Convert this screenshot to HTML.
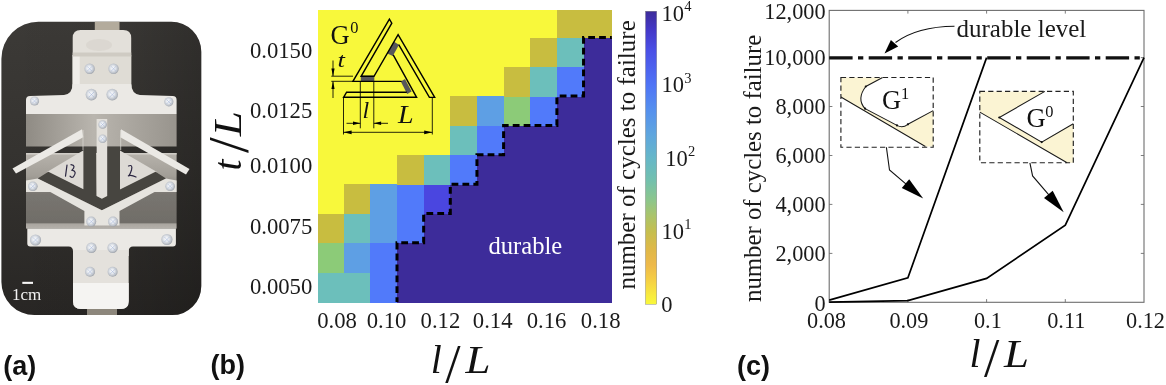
<!DOCTYPE html>
<html lang="en">
<head>
<meta charset="utf-8">
<title>Figure: durability of G0 and G1 flexure structures</title>
<style>
html,body{margin:0;padding:0;background:#ffffff;}
body{width:1166px;height:385px;overflow:hidden;}
svg{display:block;}
text{white-space:pre;}
</style>
</head>
<body>
<svg width="1166" height="385" viewBox="0 0 1166 385">
<rect x="0" y="0" width="1166" height="385" fill="#ffffff"/>
<g id="photo">
<defs><clipPath id="pclip"><path d="M38.4 21.7 L171.3 21.7 A30 30 0 0 1 201.3 51.7 L201.3 286.1 A29 29 0 0 1 172.3 315.1 L34.4 315.1 A33 33 0 0 1 1.4 282.1 L1.4 58.7 A37 37 0 0 1 38.4 21.7 Z"/></clipPath><linearGradient id="bgg" x1="0" y1="0" x2="0" y2="1"><stop offset="0" stop-color="#3c3a37"/><stop offset="0.5" stop-color="#34322f"/><stop offset="1" stop-color="#282624"/></linearGradient><linearGradient id="bgh" x1="0" y1="0" x2="1" y2="0"><stop offset="0" stop-color="#000" stop-opacity="0"/><stop offset="0.55" stop-color="#000" stop-opacity="0.04"/><stop offset="1" stop-color="#000" stop-opacity="0.2"/></linearGradient><linearGradient id="acr1" x1="0" y1="0" x2="1" y2="0"><stop offset="0" stop-color="#8f8b84"/><stop offset="0.45" stop-color="#b9b5ae"/><stop offset="1" stop-color="#98948d"/></linearGradient><linearGradient id="acr2" x1="0" y1="0" x2="0" y2="1"><stop offset="0" stop-color="#b7b3ac"/><stop offset="0.3" stop-color="#a29e97"/><stop offset="0.55" stop-color="#787570"/><stop offset="0.92" stop-color="#706d68"/><stop offset="0.94" stop-color="#aaa6a0"/><stop offset="1" stop-color="#b5b1ab"/></linearGradient><radialGradient id="scr" cx="0.45" cy="0.45" r="0.62"><stop offset="0" stop-color="#ffffff"/><stop offset="0.4" stop-color="#e2e6ec"/><stop offset="0.75" stop-color="#b9bec6"/><stop offset="1" stop-color="#8a8f97"/></radialGradient><filter id="soft" x="-5%" y="-5%" width="110%" height="110%"><feGaussianBlur stdDeviation="0.55"/></filter></defs>
<path d="M38.4 21.7 L171.3 21.7 A30 30 0 0 1 201.3 51.7 L201.3 286.1 A29 29 0 0 1 172.3 315.1 L34.4 315.1 A33 33 0 0 1 1.4 282.1 L1.4 58.7 A37 37 0 0 1 38.4 21.7 Z" fill="url(#bgg)"/>
<path d="M38.4 21.7 L171.3 21.7 A30 30 0 0 1 201.3 51.7 L201.3 286.1 A29 29 0 0 1 172.3 315.1 L34.4 315.1 A33 33 0 0 1 1.4 282.1 L1.4 58.7 A37 37 0 0 1 38.4 21.7 Z" fill="url(#bgh)"/>
<g clip-path="url(#pclip)"><g filter="url(#soft)">
<rect x="94.8" y="18" width="24.7" height="13" fill="#b3ab9c"/>
<path d="M72.7 88 L72.7 38 Q72.7 30 80.7 30 L123.2 30 Q131.2 30 131.2 38 L131.2 88 Z" fill="#e3e0da"/>
<rect x="72.7" y="55" width="58.5" height="33" fill="#dfdcd5"/>
<rect x="72.7" y="55" width="7" height="33" fill="#efede9"/>
<rect x="72.7" y="85" width="58.5" height="2.2" fill="#cdc9c1"/>
<rect x="72.7" y="52.5" width="58.5" height="4" fill="#cfcbc3"/>
<ellipse cx="99" cy="45" rx="13" ry="6" fill="#cfcbc2" opacity="0.4"/>
<path d="M72.7 84 Q72.4 94 64 95 L30 96 Q26 96 26 100 L26 114 L176.6 114 L176.6 100 Q176.6 96 172.6 96 L140 95 Q131.6 94 131.2 84 Z" fill="#ebe9e5"/>
<rect x="26" y="114" width="150.6" height="32.5" fill="url(#acr1)"/>
<rect x="26" y="153" width="150.6" height="75.6" fill="url(#acr2)"/>
<rect x="26" y="153" width="150.6" height="1.6" fill="#cfccc6"/>
<polygon points="47,172 84,150 84,190" fill="#dddad5"/>
<polygon points="157,172 120,150.5 120,190" fill="#dddad5"/>
<polygon points="48.4,171.7 83.4,189.2 83.4,147 96.1,147 96.1,195.6 101.9,198.5 106.8,196 106.8,147 120,147 120,189.6 155.5,171.7 166,178.5 101.9,210.2 37.7,178.5" fill="#47443f"/>
<polygon points="26,180.4 37.7,178.5 101.9,210.2 166,178.5 176.6,180.4 176.6,192.1 154.5,192.1 119.5,211 119.5,225.4 84.4,225.4 84.4,211 50.3,192.1 26,192.1" fill="#e6e4df"/>
<polygon points="96.6,119 107.2,119 107.2,196 101.9,198.8 96.6,196" fill="#e3e0db"/>
<polygon points="82,129.3 83.3,137.3 16,173.5 12.5,168.5" fill="#ebe9e5"/>
<polygon points="121,129.3 189.5,169 186,174.5 120.3,137.3" fill="#ebe9e5"/>
<line x1="83" y1="130" x2="83" y2="150" stroke="#d8d5cf" stroke-width="0.8"/>
<line x1="120.7" y1="130" x2="120.7" y2="150" stroke="#d8d5cf" stroke-width="0.8"/>
<path d="M27.3 228.6 L175.9 228.6 L175.9 243.4 Q175.9 246.4 172.9 246.4 L133 246.6 Q128.9 246.8 128.7 251 L128.7 256 L73 256 L73 251 Q72.8 246.8 68.7 246.6 L30.3 246.4 Q27.3 246.4 27.3 243.4 Z" fill="#ebe9e5"/>
<path d="M73 250 L128.7 250 L128.7 301 Q128.7 309 120.7 309 L81 309 Q73 309 73 301 Z" fill="#e4e1dc"/>
<path d="M73 283 L128.7 283 L128.7 301 Q128.7 309 120.7 309 L81 309 Q73 309 73 301 Z" fill="#f5f4f2"/>
<rect x="87" y="309" width="30" height="6" fill="#8d877c"/>
<path transform="translate(4.5,-1.8)" d="M62.5 167 L61 178 M66.5 166.5 Q72 167 67.5 172 Q73 173 69 178.5 Q67 180 65.5 178" fill="none" stroke="#2a2540" stroke-width="1.2" stroke-linecap="round"/>
<path d="M128.5 166 Q133 164 131.5 170 Q129.5 176 128 176 Q131 174.5 136 177" fill="none" stroke="#2a2540" stroke-width="1.2" stroke-linecap="round"/>
<circle cx="89.6" cy="68.8" r="5.2" fill="url(#scr)"/>
<path d="M87.3 66.5 L91.9 71.1 M91.9 66.5 L87.3 71.1" stroke="#8ea4cf" stroke-width="0.8" fill="none" opacity="0.55"/>
<circle cx="113.5" cy="68.8" r="5.2" fill="url(#scr)"/>
<path d="M111.2 66.5 L115.8 71.1 M115.8 66.5 L111.2 71.1" stroke="#8ea4cf" stroke-width="0.8" fill="none" opacity="0.55"/>
<circle cx="91.4" cy="94.6" r="5.8" fill="url(#scr)"/>
<path d="M88.8 92.0 L94.0 97.2 M94.0 92.0 L88.8 97.2" stroke="#8ea4cf" stroke-width="0.8" fill="none" opacity="0.55"/>
<circle cx="112.2" cy="94.6" r="5.8" fill="url(#scr)"/>
<path d="M109.6 92.0 L114.8 97.2 M114.8 92.0 L109.6 97.2" stroke="#8ea4cf" stroke-width="0.8" fill="none" opacity="0.55"/>
<circle cx="34.5" cy="101" r="4.6" fill="url(#scr)"/>
<path d="M32.4 98.9 L36.6 103.1 M36.6 98.9 L32.4 103.1" stroke="#8ea4cf" stroke-width="0.8" fill="none" opacity="0.55"/>
<circle cx="168.8" cy="101.8" r="4.6" fill="url(#scr)"/>
<path d="M166.7 99.7 L170.9 103.9 M170.9 99.7 L166.7 103.9" stroke="#8ea4cf" stroke-width="0.8" fill="none" opacity="0.55"/>
<circle cx="102.6" cy="124.5" r="4.3" fill="url(#scr)"/>
<path d="M100.7 122.6 L104.5 126.4 M104.5 122.6 L100.7 126.4" stroke="#8ea4cf" stroke-width="0.8" fill="none" opacity="0.55"/>
<circle cx="102.6" cy="138.8" r="4.3" fill="url(#scr)"/>
<path d="M100.7 136.9 L104.5 140.7 M104.5 136.9 L100.7 140.7" stroke="#8ea4cf" stroke-width="0.8" fill="none" opacity="0.55"/>
<circle cx="32.8" cy="186.3" r="4.8" fill="url(#scr)"/>
<path d="M30.6 184.1 L35.0 188.5 M35.0 184.1 L30.6 188.5" stroke="#8ea4cf" stroke-width="0.8" fill="none" opacity="0.55"/>
<circle cx="170.1" cy="186.3" r="4.8" fill="url(#scr)"/>
<path d="M167.9 184.1 L172.3 188.5 M172.3 184.1 L167.9 188.5" stroke="#8ea4cf" stroke-width="0.8" fill="none" opacity="0.55"/>
<circle cx="91.2" cy="221.6" r="5.0" fill="url(#scr)"/>
<path d="M89.0 219.3 L93.5 223.8 M93.5 219.3 L89.0 223.8" stroke="#8ea4cf" stroke-width="0.8" fill="none" opacity="0.55"/>
<circle cx="113" cy="221.6" r="5.0" fill="url(#scr)"/>
<path d="M110.8 219.3 L115.2 223.8 M115.2 219.3 L110.8 223.8" stroke="#8ea4cf" stroke-width="0.8" fill="none" opacity="0.55"/>
<circle cx="35.5" cy="240" r="5.6" fill="url(#scr)"/>
<path d="M33.0 237.5 L38.0 242.5 M38.0 237.5 L33.0 242.5" stroke="#8ea4cf" stroke-width="0.8" fill="none" opacity="0.55"/>
<circle cx="166.9" cy="239.5" r="5.6" fill="url(#scr)"/>
<path d="M164.4 237.0 L169.4 242.0 M169.4 237.0 L164.4 242.0" stroke="#8ea4cf" stroke-width="0.8" fill="none" opacity="0.55"/>
<circle cx="91.4" cy="247.7" r="5.2" fill="url(#scr)"/>
<path d="M89.1 245.4 L93.7 250.0 M93.7 245.4 L89.1 250.0" stroke="#8ea4cf" stroke-width="0.8" fill="none" opacity="0.55"/>
<circle cx="112.6" cy="247.7" r="5.2" fill="url(#scr)"/>
<path d="M110.3 245.4 L114.9 250.0 M114.9 245.4 L110.3 250.0" stroke="#8ea4cf" stroke-width="0.8" fill="none" opacity="0.55"/>
<circle cx="90" cy="271.7" r="5.0" fill="url(#scr)"/>
<path d="M87.8 269.4 L92.2 273.9 M92.2 269.4 L87.8 273.9" stroke="#8ea4cf" stroke-width="0.8" fill="none" opacity="0.55"/>
<circle cx="112.6" cy="271.7" r="5.0" fill="url(#scr)"/>
<path d="M110.3 269.4 L114.8 273.9 M114.8 269.4 L110.3 273.9" stroke="#8ea4cf" stroke-width="0.8" fill="none" opacity="0.55"/>
</g>
<rect x="22.3" y="281.8" width="10.7" height="2.1" fill="#f6f6f6"/>
<text x="12" y="300.1" font-family='"Liberation Serif", "DejaVu Serif", serif' font-size="17" fill="#f2f2f2">1cm</text>
</g></g>
<g id="heat" shape-rendering="crispEdges">
<rect x="318.2" y="9.6" width="293.60" height="292.70" fill="#f8f83b"/>
<rect x="318.20" y="272.50" width="52.45" height="30.10" fill="#6cbfbb"/>
<rect x="370.35" y="272.50" width="26.95" height="30.10" fill="#517afa"/>
<rect x="397.00" y="272.50" width="215.10" height="30.10" fill="#3d2c9a"/>
<rect x="318.20" y="243.15" width="25.80" height="29.65" fill="#8ccb78"/>
<rect x="343.70" y="243.15" width="26.95" height="29.65" fill="#5e9fe4"/>
<rect x="370.35" y="243.15" width="26.95" height="29.65" fill="#517afa"/>
<rect x="397.00" y="243.15" width="215.10" height="29.65" fill="#3d2c9a"/>
<rect x="318.20" y="213.80" width="25.80" height="29.65" fill="#c8bd40"/>
<rect x="343.70" y="213.80" width="26.95" height="29.65" fill="#6cbfbb"/>
<rect x="370.35" y="213.80" width="26.95" height="29.65" fill="#5e9fe4"/>
<rect x="397.00" y="213.80" width="26.95" height="29.65" fill="#517afa"/>
<rect x="423.65" y="213.80" width="188.45" height="29.65" fill="#3d2c9a"/>
<rect x="343.70" y="184.45" width="26.95" height="29.65" fill="#c8bd40"/>
<rect x="370.35" y="184.45" width="26.95" height="29.65" fill="#5e9fe4"/>
<rect x="397.00" y="184.45" width="26.95" height="29.65" fill="#517afa"/>
<rect x="423.65" y="184.45" width="26.95" height="29.65" fill="#4a46e0"/>
<rect x="450.30" y="184.45" width="161.80" height="29.65" fill="#3d2c9a"/>
<rect x="397.00" y="155.10" width="26.95" height="29.65" fill="#c8bd40"/>
<rect x="423.65" y="155.10" width="26.95" height="29.65" fill="#6cbfbb"/>
<rect x="450.30" y="155.10" width="26.95" height="29.65" fill="#517afa"/>
<rect x="476.95" y="155.10" width="135.15" height="29.65" fill="#3d2c9a"/>
<rect x="450.30" y="125.75" width="26.95" height="29.65" fill="#6cbfbb"/>
<rect x="476.95" y="125.75" width="26.95" height="29.65" fill="#517afa"/>
<rect x="503.60" y="125.75" width="108.50" height="29.65" fill="#3d2c9a"/>
<rect x="450.30" y="96.40" width="26.95" height="29.65" fill="#c8bd40"/>
<rect x="476.95" y="96.40" width="26.95" height="29.65" fill="#5e9fe4"/>
<rect x="503.60" y="96.40" width="26.95" height="29.65" fill="#8ccb78"/>
<rect x="530.25" y="96.40" width="26.95" height="29.65" fill="#517afa"/>
<rect x="556.90" y="96.40" width="55.20" height="29.65" fill="#3d2c9a"/>
<rect x="503.60" y="67.05" width="26.95" height="29.65" fill="#c8bd40"/>
<rect x="530.25" y="67.05" width="26.95" height="29.65" fill="#6cbfbb"/>
<rect x="556.90" y="67.05" width="26.95" height="29.65" fill="#517afa"/>
<rect x="583.55" y="67.05" width="28.55" height="29.65" fill="#3d2c9a"/>
<rect x="530.25" y="37.70" width="26.95" height="29.65" fill="#c8bd40"/>
<rect x="556.90" y="37.70" width="26.95" height="29.65" fill="#6cbfbb"/>
<rect x="583.55" y="37.70" width="28.55" height="29.65" fill="#3d2c9a"/>
<rect x="556.90" y="9.60" width="55.20" height="28.40" fill="#c8bd40"/>
<path d="M397.00 302.30 L397.00 243.15 L423.65 243.15 L423.65 213.80 L450.30 213.80 L450.30 184.45 L476.95 184.45 L476.95 155.10 L503.60 155.10 L503.60 125.75 L556.90 125.75 L556.90 96.40 L583.55 96.40 L583.55 37.70 L611.80 37.70" transform="translate(0,-0.3)" shape-rendering="geometricPrecision" fill="none" stroke="#000" stroke-width="3" stroke-dasharray="6.8 4.1" stroke-dashoffset="2"/>
<text x="488.5" y="253.6" font-family='"Liberation Serif", "DejaVu Serif", serif' font-size="24.6" fill="#ffffff">durable</text>
</g>
<g id="insetb">
<rect x="360.8" y="75.8" width="13.5" height="6.1" fill="#57575a"/>
<polygon points="394,41.8 399,44.7 392.8,56 387.3,53.4" fill="#57575a"/>
<polygon points="400.8,81.4 405,79.1 411.6,91.4 407.2,94" fill="#57575a"/>
<path d="M401.6 81.4 L352.9 81.4 L389.4 19.1 L391.8 23.2 L361.1 76.3 L374 76.3 L398.1 34.7 L434.7 97.4 L429.4 97.4 L398.7 44.6" fill="none" stroke="#000" stroke-width="1.4" stroke-linejoin="miter" stroke-linecap="butt"/>
<path d="M393.2 54.8 L416.6 97.3 L343.6 97.3 L346.6 92.2 L406.8 92.2" fill="none" stroke="#000" stroke-width="1.4" stroke-linejoin="miter" stroke-linecap="butt"/>
<path d="M353 76.2 L331.3 76.2 M353 81.3 L331.3 81.3" stroke="#000" stroke-width="0.85" fill="none"/>
<path d="M333 60.5 L333 76 M333 81.5 L333 98" stroke="#000" stroke-width="0.85" fill="none"/>
<polygon points="333,76.2 331.4,68.6 334.6,68.6" fill="#000"/><polygon points="333,81.3 331.4,88.9 334.6,88.9" fill="#000"/>
<path d="M360.3 81.5 L360.3 128.3 M373.8 81.5 L373.8 128.3" stroke="#000" stroke-width="0.85" fill="none"/>
<path d="M346.5 123.3 L360.3 123.3 M373.8 123.3 L388 123.3" stroke="#000" stroke-width="0.85" fill="none"/>
<polygon points="360.3,123.3 353,121.6 353,125" fill="#000"/><polygon points="373.8,123.3 381.1,121.6 381.1,125" fill="#000"/>
<path d="M343.5 97.5 L343.5 134.5 M432.3 97.5 L432.3 134.5 M343.5 132.3 L432.3 132.3" stroke="#000" stroke-width="0.85" fill="none"/>
<polygon points="343.5,132.3 351.6,130.4 351.6,134.2" fill="#000"/><polygon points="432.3,132.3 424.2,130.4 424.2,134.2" fill="#000"/>
<text x="330.6" y="43.9" font-family='"Liberation Serif", "DejaVu Serif", serif' font-size="26.5" fill="#111">G<tspan font-size="16.4" dx="0.6" dy="-11">0</tspan></text>
<text x="337.6" y="67.4" font-family='"Liberation Serif", "DejaVu Serif", serif' font-size="21.5" font-style="italic" fill="#111" textLength="7.4" lengthAdjust="spacingAndGlyphs">t</text>
<text x="362.6" y="117.8" font-family='"Liberation Serif", "DejaVu Serif", serif' font-size="24" font-style="italic" fill="#111">l</text>
<text x="398" y="122.9" font-family='"Liberation Serif", "DejaVu Serif", serif' font-size="24.5" font-style="italic" fill="#111" textLength="15.6" lengthAdjust="spacingAndGlyphs">L</text>
</g>
<g id="heatax" font-family='"Liberation Serif", "DejaVu Serif", serif' font-size="22.7" fill="#1a1a1a">
<text x="312.3" y="57.9" text-anchor="end">0.0150</text>
<text x="312.3" y="117.9" text-anchor="end">0.0125</text>
<text x="312.3" y="172.8" text-anchor="end">0.0100</text>
<text x="312.3" y="233.9" text-anchor="end">0.0075</text>
<text x="312.3" y="293.8" text-anchor="end">0.0050</text>
<text x="337" y="328.2" text-anchor="middle">0.08</text>
<text x="386.5" y="328.2" text-anchor="middle">0.10</text>
<text x="440.4" y="328.2" text-anchor="middle">0.12</text>
<text x="492.7" y="328.2" text-anchor="middle">0.14</text>
<text x="546.6" y="328.2" text-anchor="middle">0.16</text>
<text x="600.7" y="328.2" text-anchor="middle">0.18</text>
</g>
<g font-family='"Liberation Serif", "DejaVu Serif", serif' fill="#111"><text x="430.8" y="373.3" font-size="39.5" font-style="italic">l</text><text x="445.3" y="381.5" font-size="55">/</text><text x="465.4" y="373.3" font-size="40" font-style="italic" textLength="25" lengthAdjust="spacingAndGlyphs">L</text></g>
<g transform="translate(241.2,170.4) rotate(-90)" font-family='"Liberation Serif", "DejaVu Serif", serif' fill="#111"><text x="0" y="0" font-size="39.5" font-style="italic">t</text><text x="17.4" y="6.9" font-size="57">/</text><text x="34.1" y="0" font-size="40" font-style="italic" textLength="25" lengthAdjust="spacingAndGlyphs">L</text></g>
<g id="cbar">
<defs><linearGradient id="par" x1="0" y1="0" x2="0" y2="1"><stop offset="0.0000" stop-color="#3d2c9a"/><stop offset="0.0642" stop-color="#4438c8"/><stop offset="0.1324" stop-color="#4a4fe6"/><stop offset="0.2519" stop-color="#4f74f6"/><stop offset="0.3372" stop-color="#5590ee"/><stop offset="0.4225" stop-color="#5fa6de"/><stop offset="0.5010" stop-color="#66b7c8"/><stop offset="0.5761" stop-color="#72c0ae"/><stop offset="0.6444" stop-color="#8cc68c"/><stop offset="0.6956" stop-color="#a9c46c"/><stop offset="0.7536" stop-color="#c6be4e"/><stop offset="0.8150" stop-color="#e0b848"/><stop offset="0.8662" stop-color="#eeb94a"/><stop offset="0.9174" stop-color="#f5cf44"/><stop offset="0.9686" stop-color="#f8ea3e"/><stop offset="1.0000" stop-color="#f9f83a"/></linearGradient></defs>
<rect x="645.5" y="11.2" width="11.2" height="293" fill="url(#par)" stroke="#777" stroke-width="0.4"/>
<g font-family='"Liberation Serif", "DejaVu Serif", serif' font-size="22.5" fill="#1a1a1a">
<text x="661.4" y="20.8">10<tspan font-size="14.5" dx="0.3" dy="-9.5">4</tspan></text>
<text x="661.4" y="92.2">10<tspan font-size="14.5" dx="0.3" dy="-9.5">3</tspan></text>
<text x="665.2" y="165.7">10<tspan font-size="14.5" dx="0.3" dy="-9.5">2</tspan></text>
<text x="661.4" y="238.6">10<tspan font-size="14.5" dx="0.3" dy="-9.5">1</tspan></text>
<text x="661.2" y="311.7">0</text>
</g>
<text transform="translate(635.3,289.6) rotate(-90)" font-family='"Liberation Serif", "DejaVu Serif", serif' font-size="25" fill="#1a1a1a">number of cycles to failure</text>
</g>
<g id="plotc">
<path d="M840.9 77.5 L882.6 77.5 L865.8 86.5 Q856.2 99.0 865.1 108.7 L897.0 125.4 Q902.5 128.5 907.9 124.3 L933.2 110.6 L933.2 146.5 L925.4 146.5 L840.9 97.0 Z" fill="#fbf4d3"/>
<path d="M882.6 77.5 L865.8 86.5 Q856.2 99.0 865.1 108.7 L897.0 125.4 Q902.5 128.5 907.9 124.3 L933.2 110.6 M925.4 146.5 L840.9 97.0" fill="none" stroke="#1a1a1a" stroke-width="1.05"/>
<circle cx="865.8" cy="86.5" r="1.1" fill="#111"/>
<circle cx="865.1" cy="108.7" r="1.1" fill="#111"/>
<circle cx="897.0" cy="125.4" r="1.1" fill="#111"/>
<circle cx="907.9" cy="124.3" r="1.1" fill="#111"/>
<rect x="840.9" y="77.5" width="92.3" height="69.7" fill="none" stroke="#222" stroke-width="1.15" stroke-dasharray="5.2 3.2"/>
<text x="882.1" y="109.4" font-family='"Liberation Serif", "DejaVu Serif", serif' font-size="26.5" fill="#111">G<tspan font-size="16.4" dx="-0.2" dy="-10.1">1</tspan></text>
<polygon points="979.8,91.4 1044.9,91.4 999.3,117.5 1041.7,142.1 1073.3,123.8 1073.3,162.7 1067.1,162.7 979.8,112.1" fill="#fbf4d3"/>
<path d="M1044.9 91.4 L999.3 117.5 L1041.7 142.1 L1073.3 123.8 M1067.1 162.7 L979.8 112.1" fill="none" stroke="#1a1a1a" stroke-width="1.05"/>
<circle cx="999.3" cy="117.5" r="1.1" fill="#111"/>
<circle cx="1041.7" cy="142.1" r="1.1" fill="#111"/>
<rect x="979.8" y="91.4" width="93.5" height="71.3" fill="none" stroke="#222" stroke-width="1.15" stroke-dasharray="5.2 3.2"/>
<text x="1026.5" y="127.1" font-family='"Liberation Serif", "DejaVu Serif", serif' font-size="26.5" fill="#111">G<tspan font-size="16.4" dx="-0.4" dy="-10.5">0</tspan></text>
<path d="M886.4 147.3 L889.5 170.0 L907.0 184.8" fill="none" stroke="#111" stroke-width="1.1"/><polygon points="923.2,198.5 901.8,187.9 909.2,179.2" fill="#000"/>
<path d="M1029.9 162.8 L1032.6 175.9 L1049.7 195.9" fill="none" stroke="#111" stroke-width="1.1"/><polygon points="1063.7,212.3 1044.0,198.1 1052.7,190.7" fill="#000"/>
<rect x="829.2" y="10.4" width="314.8" height="291.9" fill="none" stroke="#6e6e6e" stroke-width="1.1"/>
<path d="M829.2 253.4 L832.4000000000001 253.4 M1144.0 253.4 L1140.8 253.4 M829.2 204.4 L832.4000000000001 204.4 M1144.0 204.4 L1140.8 204.4 M829.2 155.5 L832.4000000000001 155.5 M1144.0 155.5 L1140.8 155.5 M829.2 106.5 L832.4000000000001 106.5 M1144.0 106.5 L1140.8 106.5 M829.2 57.6 L832.4000000000001 57.6 M1144.0 57.6 L1140.8 57.6 M907.9 302.3 L907.9 299.1 M907.9 10.4 L907.9 13.600000000000001 M986.6 302.3 L986.6 299.1 M986.6 10.4 L986.6 13.600000000000001 M1065.3 302.3 L1065.3 299.1 M1065.3 10.4 L1065.3 13.600000000000001" stroke="#6e6e6e" stroke-width="0.9" fill="none"/>
<line x1="829.2" y1="57.9" x2="1144.0" y2="57.9" stroke="#111" stroke-width="3.1" stroke-dasharray="23.4 5.4 5.3 5.4"/>
<polyline points="829.2,300.1 907.9,277.8 986.6,57.6" fill="none" stroke="#000" stroke-width="1.7" stroke-linejoin="miter"/>
<polyline points="829.2,302.1 907.9,300.6 986.6,278.4 1065.3,225.2 1144.0,57.6" fill="none" stroke="#000" stroke-width="1.7" stroke-linejoin="miter"/>
<g font-family='"Liberation Serif", "DejaVu Serif", serif' font-size="22.3" fill="#1a1a1a">
<text x="825.6" y="19.2" text-anchor="end">12,000</text>
<text x="825.6" y="64.8" text-anchor="end">10,000</text>
<text x="825.6" y="113.9" text-anchor="end">8,000</text>
<text x="825.6" y="163.0" text-anchor="end">6,000</text>
<text x="825.6" y="212.1" text-anchor="end">4,000</text>
<text x="825.6" y="261.1" text-anchor="end">2,000</text>
<text x="825.6" y="311.2" text-anchor="end">0</text>
<text x="826.5" y="328.3" text-anchor="middle">0.08</text>
<text x="908.9" y="328.3" text-anchor="middle">0.09</text>
<text x="987.9" y="328.3" text-anchor="middle">0.1</text>
<text x="1066.3" y="328.3" text-anchor="middle">0.11</text>
<text x="1145.5" y="328.3" text-anchor="middle">0.12</text>
<text x="956.5" y="36.7" font-size="25">durable level</text>
</g>
<path d="M954.5 26.2 Q917 26.5 895.5 42.5" fill="none" stroke="#111" stroke-width="1.1"/>
<polygon points="884.5,53.6 890.9,40 898.2,46.4" fill="#000"/>
<text transform="translate(760.7,302) rotate(-90)" font-family='"Liberation Serif", "DejaVu Serif", serif' font-size="24.8" fill="#1a1a1a">number of cycles to failure</text>
<g font-family='"Liberation Serif", "DejaVu Serif", serif' fill="#111"><text x="969.4" y="367.3" font-size="39.5" font-style="italic">l</text><text x="983.9" y="375.5" font-size="55">/</text><text x="1004.0" y="367.3" font-size="40" font-style="italic" textLength="25" lengthAdjust="spacingAndGlyphs">L</text></g>
</g>
<text x="3.3" y="375.2" font-family='"Liberation Sans", "DejaVu Sans", sans-serif' font-weight="bold" font-size="27" fill="#111">(a)</text>
<text x="210.6" y="374.3" font-family='"Liberation Sans", "DejaVu Sans", sans-serif' font-weight="bold" font-size="27" fill="#111">(b)</text>
<text x="737" y="375.2" font-family='"Liberation Sans", "DejaVu Sans", sans-serif' font-weight="bold" font-size="27" fill="#111">(c)</text>
</svg>
</body>
</html>
